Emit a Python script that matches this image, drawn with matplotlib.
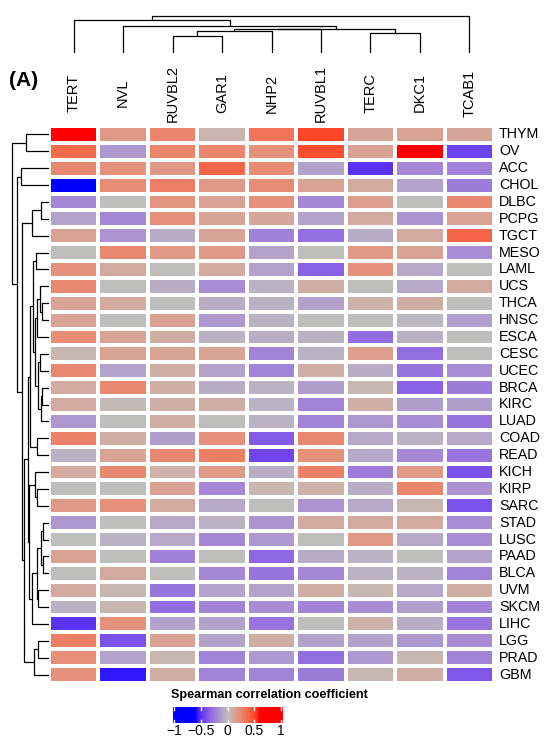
import numpy as np
import matplotlib
matplotlib.use("Agg")
import matplotlib.pyplot as plt
from matplotlib.colors import ListedColormap, Normalize
from matplotlib.transforms import blended_transform_factory

plt.rcParams['font.family'] = ['Liberation Sans', 'DejaVu Sans']

# ---------------- data ----------------
genes = ["TERT", "NVL", "RUVBL2", "GAR1", "NHP2", "RUVBL1", "TERC", "DKC1", "TCAB1"]
cancers = ["THYM", "OV", "ACC", "CHOL", "DLBC", "PCPG", "TGCT", "MESO", "LAML", "UCS",
           "THCA", "HNSC", "ESCA", "CESC", "UCEC", "BRCA", "KIRC", "LUAD", "COAD", "READ",
           "KICH", "KIRP", "SARC", "STAD", "LUSC", "PAAD", "BLCA", "UVM", "SKCM", "LIHC",
           "LGG", "PRAD", "GBM"]

TERT = [0.65, 0.38, 0.26, -0.6, -0.2, -0.1, 0.14, 0.0, 0.22, 0.26, 0.13, 0.13, 0.24, 0.04, 0.26, 0.1, 0.1,
        -0.14, 0.29, -0.04, 0.1, 0.0, 0.18, -0.14, 0.0, 0.14, 0.0, 0.1, -0.04, -0.5, 0.3, 0.23, 0.22]
NVL = [0.18, -0.14, 0.22, 0.24, 0.0, -0.2, -0.16, 0.26, 0.1, 0.0, 0.1, 0.0, 0.13, 0.13, -0.1, 0.26, 0.02,
       0.0, 0.08, 0.13, 0.26, 0.0, 0.22, 0.0, -0.04, 0.0, 0.1, 0.04, 0.04, 0.22, -0.4, -0.1, -0.57]
RUVBL2 = [0.27, 0.27, 0.18, 0.3, 0.2, 0.22, -0.06, 0.18, 0.0, -0.06, 0.0, 0.14, 0.08, 0.13, 0.08, 0.08, 0.08,
          0.08, -0.12, 0.26, 0.06, 0.14, 0.1, -0.08, -0.08, -0.23, 0.0, -0.27, -0.3, -0.1, 0.14, 0.04, 0.08]
GAR1 = [0.05, 0.27, 0.4, 0.18, 0.14, 0.13, 0.13, 0.18, 0.1, -0.18, -0.06, -0.14, -0.04, 0.13, -0.1, -0.06, 0.08,
        0.0, 0.22, 0.3, 0.18, -0.2, -0.08, -0.04, -0.2, 0.0, -0.2, -0.1, -0.22, -0.1, -0.1, -0.22, -0.22]
NHP2 = [0.34, 0.22, 0.24, 0.24, 0.22, 0.12, -0.23, -0.1, -0.1, -0.04, -0.04, -0.04, -0.06, -0.22, -0.22, -0.04, -0.04,
        -0.04, -0.36, -0.44, -0.06, 0.04, 0.0, -0.16, -0.14, -0.32, -0.27, -0.1, -0.18, -0.27, 0.08, -0.14, -0.22]
RUVBL1 = [0.5, 0.48, -0.1, 0.14, -0.2, -0.1, -0.3, 0.0, -0.34, 0.08, -0.1, 0.0, -0.04, -0.04, 0.08, -0.12, -0.22,
          -0.22, 0.26, 0.22, 0.29, 0.06, -0.16, 0.1, 0.0, -0.06, -0.2, 0.08, -0.22, 0.0, -0.1, -0.3, -0.24]
TERC = [0.12, 0.14, -0.5, 0.1, 0.16, 0.1, -0.06, 0.18, 0.22, 0.0, 0.06, 0.0, -0.3, 0.16, -0.06, 0.04, 0.08,
        -0.14, -0.08, -0.08, -0.25, -0.06, -0.08, 0.1, 0.18, -0.04, -0.04, 0.04, -0.18, 0.06, -0.1, -0.14, 0.04]
DKC1 = [0.14, 0.65, -0.2, -0.1, 0.0, -0.16, 0.1, 0.14, -0.08, -0.08, 0.08, -0.02, -0.04, -0.3, -0.27, -0.34, -0.12,
        -0.18, -0.04, -0.2, 0.18, 0.27, 0.04, 0.1, -0.08, 0.0, -0.04, -0.08, -0.12, -0.06, -0.14, 0.04, 0.08]
TCAB1 = [0.12, -0.45, -0.23, -0.24, 0.26, 0.14, 0.4, -0.18, 0.0, 0.1, 0.0, -0.12, 0.0, 0.0, -0.18, -0.24, -0.12,
         -0.27, -0.08, -0.27, -0.4, -0.16, -0.4, -0.18, -0.18, -0.1, -0.22, 0.08, -0.22, -0.27, -0.18, -0.22, -0.38]

# dendrograms: nodes are (left, right, merge height)
nA = ("THYM", "OV", 23.0)
nB = ("ACC", "CHOL", 27.7)
nG = (("DLBC", "PCPG", 8.3), "TGCT", 16.7)
nML = ("MESO", "LAML", 13.0)
nQ1 = (("UCS", ("THCA", "HNSC", 7.3), 9.0), "ESCA", 11.7)
nQ2 = (("CESC", "UCEC", 9.0), (("BRCA", "KIRC", 7.3), "LUAD", 8.0), 10.7)
nP = (nML, (nQ1, nQ2, 14.0), 15.7)
nF = (nP, ("COAD", "READ", 12.3), 19.0)
nKKS = ("KICH", ("KIRP", "SARC", 12.3), 14.0)
nR = ((("STAD", "LUSC", 6.3), ("PAAD", "BLCA", 6.3), 8.3), ("UVM", "SKCM", 10.7), 11.7)
nZ = (nKKS, (nR, "LIHC", 17.3), 19.5)
nX = (nF, nZ, 20.7)
nLPG = (("LGG", "PRAD", 11.3), "GBM", 14.7)
nD = (nG, (nX, nLPG, 24.7), 26.7)
row_tree = (nA, (nB, nD, 32.3), 37.3)

c3 = ((("RUVBL2", "GAR1", 16.3), "NHP2", 21.3), "RUVBL1", 23.3)
c5 = (c3, ("TERC", "DKC1", 19.3), 23.8)
col_tree = (("TERT", ("NVL", c5, 26.3), 32.3), "TCAB1", 36.3)

# ---------------- colour map (LAB interpolation like colorRamp2) ----------------
M = np.array([[0.4124, 0.3576, 0.1805], [0.2126, 0.7152, 0.0722], [0.0193, 0.1192, 0.9505]])
WHITE = np.array([0.95047, 1.0, 1.08883])

def rgb2lab(rgb):
    c = np.asarray(rgb, float)
    lin = np.where(c <= 0.04045, c / 12.92, ((c + 0.055) / 1.055) ** 2.4)
    xyz = M @ lin / WHITE
    d = 6 / 29
    f = np.where(xyz > d ** 3, np.cbrt(xyz), xyz / (3 * d * d) + 4 / 29)
    return np.array([116 * f[1] - 16, 500 * (f[0] - f[1]), 200 * (f[1] - f[2])])

def lab2rgb(lab):
    L, a, b = lab
    fy = (L + 16) / 116
    fx = fy + a / 500
    fz = fy - b / 200
    d = 6 / 29
    finv = lambda t: np.where(t > d, t ** 3, 3 * d * d * (t - 4 / 29))
    xyz = np.array([finv(fx), finv(fy), finv(fz)]) * WHITE
    lin = np.clip(np.linalg.inv(M) @ xyz, 0, 1)
    c = np.where(lin <= 0.0031308, 12.92 * lin, 1.055 * lin ** (1 / 2.4) - 0.055)
    return np.clip(c, 0, 1)

breaks = [-0.6, 0.0, 0.6]
bcols = [rgb2lab([0, 0, 1]), rgb2lab([190 / 255] * 3), rgb2lab([1, 0, 0])]
vals = np.linspace(-1, 1, 512)
cols = []
for v in vals:
    v = min(max(v, breaks[0]), breaks[-1])
    if v <= 0:
        t = (v - breaks[0]) / (breaks[1] - breaks[0]); lab = bcols[0] * (1 - t) + bcols[1] * t
    else:
        t = (v - breaks[1]) / (breaks[2] - breaks[1]); lab = bcols[1] * (1 - t) + bcols[2] * t
    cols.append(lab2rgb(lab))
cmap = ListedColormap(np.array(cols))
norm = Normalize(-1, 1)

# ---------------- figure ----------------
W, H = 549, 740
fig = plt.figure(figsize=(W / 100, H / 100), dpi=100)

def px_axes(x0, y0, x1, y1):
    return fig.add_axes([x0 / W, 1 - y1 / H, (x1 - x0) / W, (y1 - y0) / H])

hx0, hx1, hy0, hy1 = 49, 494, 126, 683
ax = px_axes(hx0, hy0, hx1, hy1)
mat = np.array([TERT, NVL, RUVBL2, GAR1, NHP2, RUVBL1, TERC, DKC1, TCAB1]).T
ax.pcolormesh(np.arange(len(genes) + 1), np.arange(len(cancers) + 1), mat, cmap=cmap, norm=norm,
              edgecolors='white', linewidth=1.5)
ax.set_xlim(0, len(genes))
ax.set_ylim(len(cancers), 0)
ax.axis('off')

tr = blended_transform_factory(fig.transFigure, ax.transData)
for i, c in enumerate(cancers):
    ax.text(499 / W, i + 0.5, c, transform=tr, ha='left', va='center', fontsize=10.3)
tc = blended_transform_factory(ax.transData, fig.transFigure)
for j, g in enumerate(genes):
    ax.text(j + 0.5, 1 - 93 / H, g, transform=tc, rotation=90, ha='center', va='center', fontsize=10.5)

fig.text(23.5 / W, 1 - 80 / H, "(A)", ha='center', va='center', fontsize=15, fontweight='bold')

def draw_tree(axd, node, pos, orient):
    if isinstance(node, str):
        return pos[node], 0.0
    l, r, h = node
    pl, hl = draw_tree(axd, l, pos, orient)
    pr, hr = draw_tree(axd, r, pos, orient)
    if orient == 'row':
        axd.plot([hl, h, h, hr], [pl, pl, pr, pr], color='black', lw=0.9, solid_capstyle='butt')
    else:
        axd.plot([pl, pl, pr, pr], [hl, h, h, hr], color='black', lw=0.9, solid_capstyle='butt')
    return (pl + pr) / 2, h

axr = px_axes(0, hy0, hx0, hy1)
draw_tree(axr, row_tree, {c: i + 0.5 for i, c in enumerate(cancers)}, 'row')
axr.set_xlim(hx0, 0)
axr.set_ylim(len(cancers), 0)
axr.axis('off')

axc = px_axes(hx0, 0, hx1, 52.7)
draw_tree(axc, col_tree, {g: j + 0.5 for j, g in enumerate(genes)}, 'col')
axc.set_xlim(0, len(genes))
axc.set_ylim(0, 52.7)
axc.axis('off')

fig.text(171 / W, 1 - 695 / H, "Spearman correlation coefficient", ha='left', va='center',
         fontsize=9.1, fontweight='bold')
axl = px_axes(173.3, 706.7, 283.3, 722.7)
grad = np.linspace(-1.02, 1.04, 300).reshape(1, -1)
axl.imshow(grad, aspect='auto', cmap=cmap, norm=norm, extent=[-1.02, 1.04, 0, 1])
axl.set_xlim(-1.02, 1.04)
axl.set_ylim(0, 1)
ticks = [-1, -0.5, 0, 0.5, 1]
tick_labels = ["\u22121", "\u22120.5", "0", "0.5", "1"]
for t in ticks:
    axl.plot([t, t], [0, 0.2], color='white', lw=1)
    axl.plot([t, t], [0.8, 1], color='white', lw=1)
axl.axis('off')
tl = blended_transform_factory(axl.transData, fig.transFigure)
for t, s in zip(ticks, tick_labels):
    axl.text(t, 1 - 731 / H, s, transform=tl, ha='center', va='center', fontsize=10)

fig.savefig("out.png", dpi=100)
